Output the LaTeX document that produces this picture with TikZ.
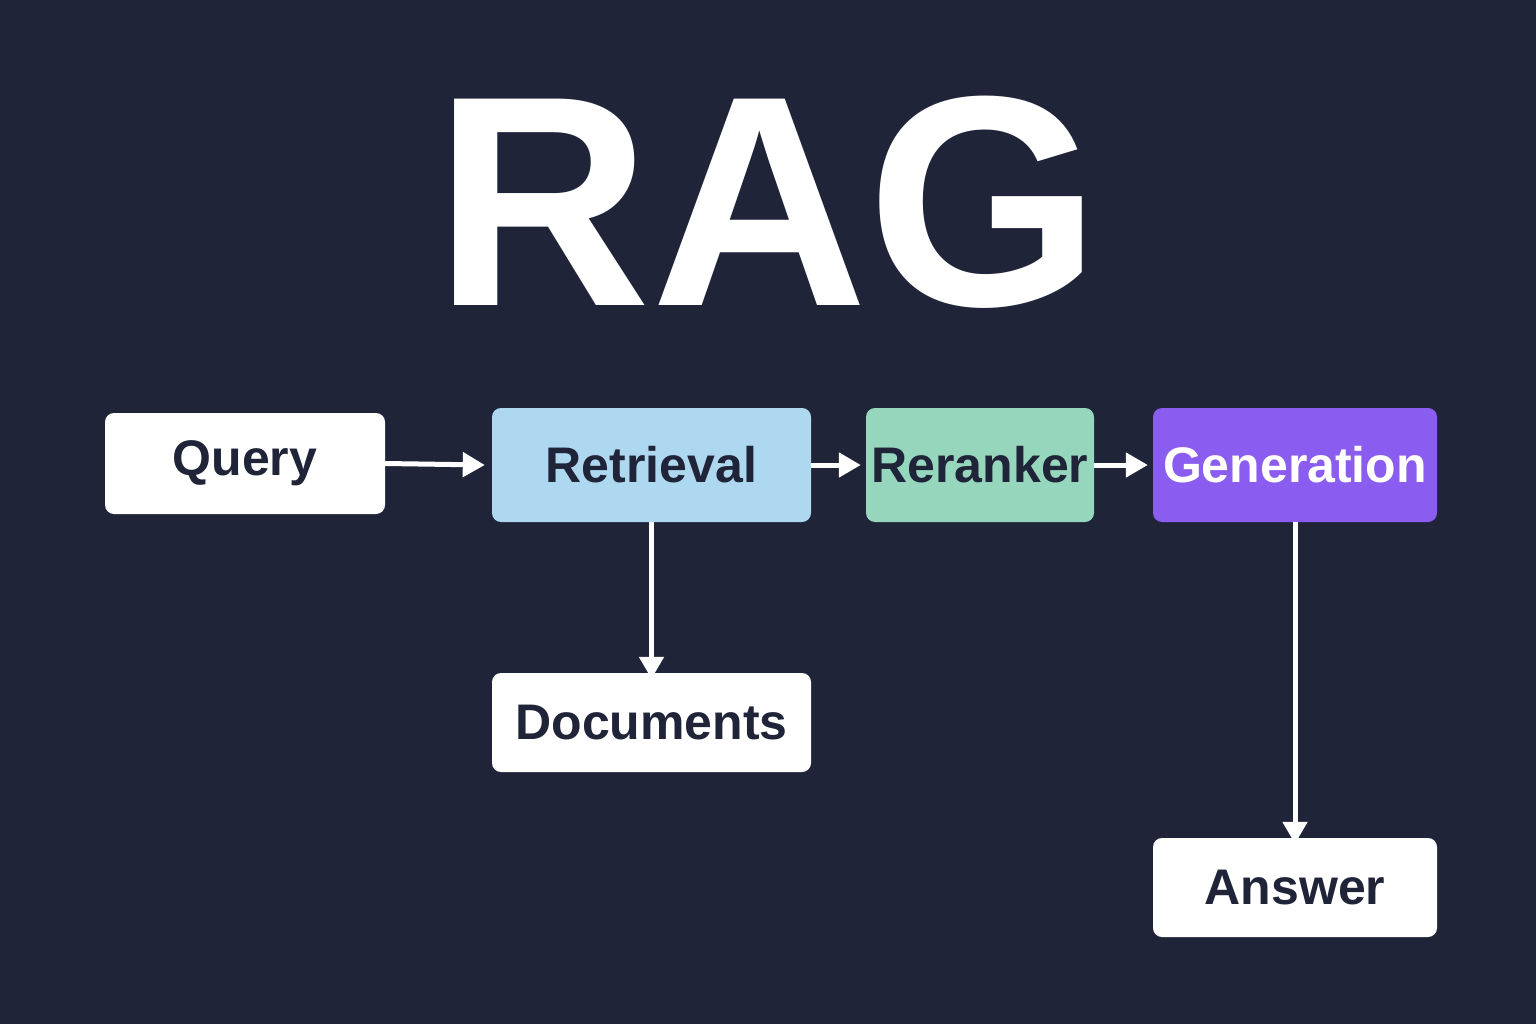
\documentclass[tikz,border=0pt]{standalone}
\usepackage{fontspec}
\setmainfont{Liberation Sans}
\usetikzlibrary{arrows.meta}
\definecolor{bg}{HTML}{1F2438}
\definecolor{blu}{HTML}{ADD8F0}
\definecolor{grn}{HTML}{96D6BC}
\definecolor{pur}{HTML}{8B5CF0}
\begin{document}
\begin{tikzpicture}[x=1pt,y=-1pt,
  box/.style={draw=none,rounded corners=9pt,minimum height=#1,inner sep=0pt,text=bg,font=\fontsize{50}{50}\selectfont\bfseries},
  arr/.style={white,line width=5pt,-{Triangle[length=22pt,width=24pt]}}]
\fill[bg] (0,0) rectangle (1536,1024);
\useasboundingbox (0,0) rectangle (1536,1024);
\node[white,font=\fontsize{300}{300}\selectfont\bfseries] (t) at (768,202) {RAG};
\node[box=101pt,fill=white,minimum width=280pt] (q) at (245,463.5) {Query};
\node[box=114pt,fill=blu,minimum width=319pt] (r) at (651.5,465) {Retrieval};
\node[box=114pt,fill=grn,minimum width=228pt] (k) at (980,465) {Reranker};
\node[box=114pt,fill=pur,minimum width=284pt,text=white] (g) at (1295,465) {Generation};
\node[box=99pt,fill=white,minimum width=319pt] (d) at (651.5,722.5) {Documents};
\node[box=99pt,fill=white,minimum width=284pt] (a) at (1295,887.5) {Answer};
\draw[arr] (q.east) -- ([xshift=-7pt]r.west);
\draw[arr] (r.east) -- ([xshift=-5pt]k.west);
\draw[arr] (k.east) -- ([xshift=-5pt]g.west);
\draw[arr] (r.south) -- ([yshift=-6pt]d.north);
\draw[arr] (g.south) -- ([yshift=-6pt]a.north);
\end{tikzpicture}
\end{document}
